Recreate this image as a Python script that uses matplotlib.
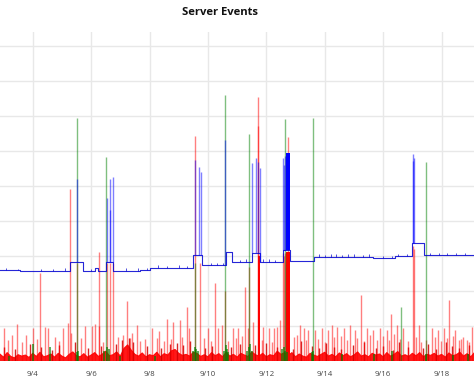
import numpy as np
import matplotlib
matplotlib.use("Agg")
import matplotlib.pyplot as plt
import matplotlib.dates as mdates
from datetime import datetime

plt.rcParams['font.family'] = ['Open Sans', 'DejaVu Sans']

# ---------------- data (time in days since 9/4 00:00) ----------------
title = "Server Events"
start_date = datetime(2024, 9, 4)
tick_days = [0, 2, 4, 6, 8, 10, 12, 14]
tick_labels = ["9/4", "9/6", "9/8", "9/10", "9/12", "9/14", "9/16", "9/18"]

# blue: stepped baseline
blue_step_t = [-1.2, -0.43, 1.28, 1.72, 2.13, 2.24, 2.51, 2.75, 3.68, 4.02, 5.49, 5.79,
               6.62, 6.83, 7.50, 7.78, 8.57, 8.81, 9.63, 11.65, 12.40, 12.99, 13.40, 15.2]
blue_step_v = [26.0, 25.6, 28.4, 25.7, 26.6, 25.7, 28.3, 25.7, 26.0, 26.6, 30.3, 27.4,
               31.2, 28.3, 30.9, 28.4, 31.7, 28.7, 29.8, 29.3, 30.0, 33.6, 30.3, 30.3]
# blue spikes (tall) and small blips
blue_spike_t = [1.53, 2.53, 2.64, 2.66, 2.74, 5.57, 5.71, 5.75, 6.60, 7.50, 7.64, 7.73, 7.78,
                8.58, 8.62, 8.65, 13.01, 13.03, 13.05]
blue_spike_v = [51.9, 46.6, 52.0, 43.0, 52.7, 57.4, 55.3, 54.1, 63.1, 56.5, 57.9, 56.9, 55.1,
                57.9, 56.0, 58.5, 57.0, 59.1, 58.0]
# dense blue burst (start, end, top)
blue_block_t0 = [8.68]
blue_block_t1 = [8.80]
blue_block_v = [59.3]
blue_blip_t = [-0.9, -0.5, 0.3, 0.7, 1.1, 2.0, 3.2, 3.6, 3.9, 4.3, 4.6, 5.0, 5.3, 6.1, 6.3, 6.5,
               7.1, 7.3, 7.9, 8.1, 8.3, 9.8, 10.0, 10.2, 10.4, 10.6, 10.8, 11.0, 11.3, 11.5,
               12.0, 12.3, 12.5, 12.8, 13.6, 13.9, 14.2, 14.5, 14.8]
blue_blip_v = [26.6, 26.2, 26.4, 26.3, 26.5, 26.4, 26.6, 26.5, 26.7, 27.3, 27.2, 27.3, 27.2,
               28.0, 28.1, 28.0, 29.0, 29.1, 29.1, 29.2, 29.0, 30.5, 30.4, 30.6, 30.5, 30.4,
               30.6, 30.5, 30.4, 30.6, 30.1, 30.0, 30.7, 30.6, 31.0, 30.9, 30.8, 31.0, 30.9]

# red: noise floor sampled every 3 hours from day -1.25
red_floor_start = -1.25
red_floor_v = [
    1.4, 2.0, 1.1, 2.4, 1.3, 0.9, 1.8, 1.4,
    1.7, 1.0, 2.2, 1.3, 2.5, 1.2, 1.5, 2.0,
    1.1, 2.2, 1.4, 0.9, 1.9, 2.6, 1.5, 1.2,
    2.1, 1.1, 1.7, 2.4, 1.3, 1.9, 2.8, 1.5,
    1.8, 2.6, 1.4, 3.6, 4.6, 3.1, 1.9, 1.4,
    2.3, 1.2, 1.8, 1.5, 2.5, 1.2, 2.1, 1.7,
    2.9, 3.3, 2.2, 1.6, 1.9, 1.4, 2.5, 2.2,
    1.3, 1.8, 1.2, 2.4, 1.5, 2.1, 1.2, 2.5,
    1.4, 1.9, 1.1, 2.2, 1.7, 1.3, 2.6, 1.8,
    1.4, 2.2, 1.2, 1.8, 1.5, 2.8, 1.9, 2.4,
    1.6, 2.4, 1.2, 2.0, 1.4, 1.1, 2.2, 1.7,
    1.3, 1.9, 2.5, 1.4, 1.9, 1.2, 2.3, 1.5,
    2.1, 1.2, 1.7, 2.6, 1.4, 1.8, 1.2, 2.2,
    1.7, 2.0, 1.2, 2.4, 1.4, 1.9, 2.7, 1.4,
    1.8, 1.3, 2.2, 1.5, 2.4, 1.2, 1.9, 1.6,
    2.2, 1.4, 1.9, 1.1, 2.3, 1.5, 1.8, 2.5,
    1.4, 2.1, 1.2, 2.4, 1.7]
# red spikes
red_spike_t = [
    -0.98, -0.72, -0.53, -0.24, 0.02, 0.25, 0.42, 0.53, 0.76, 1.03, 1.20, 1.28, 1.31, 1.53,
    1.79, 2.02, 2.13, 2.26, 2.28, 2.53, 2.65, 2.74, 2.93, 3.22, 3.33, 3.58, 3.67, 3.85,
    4.08, 4.25, 4.34, 4.59, 4.73, 4.82, 5.04, 5.27, 5.35, 5.57, 5.73, 6.01, 6.24, 6.36,
    6.47, 6.60, 6.70, 6.87, 7.04, 7.27, 7.38, 7.42, 7.55, 7.70, 7.73, 7.90, 8.10, 8.26,
    8.38, 8.47, 8.58, 8.62, 8.65, 8.73, 9.15, 9.29, 9.44, 9.67, 9.90, 10.12, 10.24, 10.41,
    10.66, 10.87, 11.04, 11.24, 11.44, 11.66, 11.89, 12.12, 12.28, 12.47, 12.69, 13.02,
    13.04, 13.21, 13.66, 13.89, 14.08, 14.27, 14.46, 14.75, 14.86, 15.04]
red_spike_v = [
    9.3, 7.4, 10.6, 7.4, 9.4, 25.1, 9.8, 9.4, 7.0, 9.4, 10.9, 49.0, 8.0, 28.0,
    10.0, 10.0, 10.7, 31.2, 10.0, 28.0, 28.0, 28.0, 7.0, 17.2, 6.6, 10.3, 5.7, 6.3,
    9.3, 6.5, 8.7, 12.0, 6.2, 11.2, 11.6, 15.5, 9.3, 64.3, 28.0, 9.3, 22.2, 9.3,
    10.3, 20.0, 5.8, 9.3, 9.3, 21.2, 9.3, 27.0, 11.2, 67.0, 75.3, 9.8, 9.3, 9.3,
    9.8, 11.6, 31.0, 30.0, 31.0, 63.9, 10.3, 9.3, 8.9, 8.9, 9.3, 8.9, 10.3, 9.8,
    9.3, 10.3, 8.9, 18.9, 9.3, 8.9, 9.3, 8.9, 13.4, 10.3, 9.3, 33.0,
    32.0, 10.3, 9.3, 8.9, 9.3, 17.3, 8.9, 7.0, 6.0, 9.8]
# medium-low red spikes
red_mid_t = [-0.85, -0.35, 0.15, 0.9, 1.65, 2.4, 3.1, 3.4, 4.5, 5.1, 5.85, 6.12, 6.95, 7.18,
             7.85, 8.2, 8.95, 9.05, 9.36, 9.78, 10.0, 10.33, 10.55, 10.75, 11.12, 11.35,
             11.55, 11.78, 12.0, 12.2, 12.38, 12.58, 12.85, 13.12, 13.3, 13.45, 13.78,
             13.98, 14.18, 14.38, 14.58, 14.68, 14.95]
red_mid_v = [6.0, 5.5, 6.2, 5.8, 6.5, 5.5, 7.5, 8.0, 5.8, 7.0, 6.5, 5.8, 6.6, 7.2,
             6.1, 5.5, 6.8, 7.4, 5.9, 6.2, 5.5, 6.8, 7.2, 6.0, 6.7, 5.6,
             7.5, 5.9, 7.1, 6.0, 7.8, 6.3, 5.7, 6.9, 5.5, 6.1, 7.0,
             5.6, 6.5, 7.2, 5.9, 6.3, 5.4]
# dense red bursts (start, end, top)
red_block_t0 = [7.70, 8.68]
red_block_t1 = [7.79, 8.81]
red_block_v = [30.0, 31.2]
# small dark red spikes above the floor
red_small_t = [-1.0, -0.6, -0.1, 0.3, 0.65, 0.9, 1.45, 1.9, 2.35, 2.85, 3.05, 3.3, 3.45, 3.9,
               4.4, 4.7, 4.95, 5.15, 5.4, 5.9, 6.15, 6.8, 7.1, 7.6, 8.0, 8.35, 8.9, 9.2, 9.55,
               9.8, 10.05, 10.3, 10.55, 10.95, 11.35, 11.75, 12.0, 12.35, 12.55, 12.85, 13.35,
               13.55, 13.8, 14.15, 14.35, 14.6, 14.95]
red_small_v = [4.0, 3.5, 5.0, 4.0, 3.2, 4.5, 5.5, 3.6, 4.2, 5.0, 6.0, 6.5, 5.5, 4.3,
               3.6, 4.8, 5.2, 4.5, 5.8, 3.8, 4.2, 4.0, 5.0, 4.6, 5.2, 4.0, 3.5, 5.8, 4.2,
               3.6, 5.1, 4.0, 3.4, 4.6, 5.5, 3.8, 4.4, 3.2, 5.3, 4.1, 3.6,
               4.8, 3.5, 5.3, 4.2, 3.7, 4.5]

# green spikes
green_spike_t = [1.53, 2.51, 5.57, 6.60, 7.42, 8.63, 9.59, 12.61, 13.48]
green_spike_v = [69.5, 58.2, 28.0, 76.0, 64.8, 69.1, 69.4, 15.5, 56.8]
green_small_t = [-0.8, 0.0, 0.6, 1.5, 1.55, 2.45, 2.55, 2.6, 3.0, 4.2, 5.5, 5.55, 5.6, 5.65,
                 6.55, 6.62, 6.65, 6.7, 7.35, 7.4, 7.45, 7.5, 8.55, 8.6, 8.65, 8.7, 9.55,
                 9.6, 10.6, 11.7, 12.3, 13.45, 14.4, 14.9]
green_small_v = [1.5, 5.0, 4.0, 2.5, 3.0, 3.0, 4.0, 3.5, 1.5, 1.5, 3.0, 4.0, 3.5, 2.8,
                 3.0, 4.5, 3.5, 2.5, 3.0, 4.0, 5.0, 3.0, 3.5, 4.0, 3.0, 2.5, 2.5,
                 3.0, 2.0, 2.0, 3.0, 2.0, 1.8, 2.0]

# ---------------- figure ----------------
W, H = 474, 389
fig = plt.figure(figsize=(W / 100, H / 100), dpi=100)
ax = fig.add_axes([0, 28 / H, 1, 329 / H])
t0 = mdates.date2num(start_date)

def X(days):
    return t0 + np.asarray(days, dtype=float)

def base_of(ts):
    i = np.searchsorted(blue_step_t, ts, side='right') - 1
    return np.asarray(blue_step_v)[i]

# red floor
floor_t = red_floor_start + 0.125 * np.arange(len(red_floor_v))
ax.fill_between(X(floor_t), 0, red_floor_v, color='red', alpha=0.9, lw=0, zorder=2)
ax.plot(X(floor_t), red_floor_v, color='red', lw=0.8, alpha=0.9, zorder=2)
ax.vlines(X(red_small_t), 0, red_small_v, color='#d00000', lw=1.0, alpha=0.85, zorder=2)
ax.vlines(X(red_mid_t), 0, red_mid_v, color='red', lw=1.0, alpha=0.5, zorder=2)
ax.vlines(X(red_spike_t), 0, red_spike_v, color='red', lw=1.0, alpha=0.5, zorder=2)
ax.bar(X(red_block_t0), red_block_v, width=np.subtract(red_block_t1, red_block_t0),
       align='edge', color='red', lw=0, zorder=2)

# green
ax.vlines(X(green_small_t), 0, green_small_v, color='green', lw=1.2, alpha=0.75, zorder=3)
ax.vlines(X(green_spike_t), 0, green_spike_v, color='green', lw=1.0, alpha=0.5, zorder=3)

# blue
ax.plot(X(blue_step_t), blue_step_v, drawstyle='steps-post', color='#0000d0', lw=0.8,
        alpha=0.85, zorder=4)
ax.vlines(X(blue_spike_t), base_of(blue_spike_t), blue_spike_v, color='blue', lw=1.0,
          alpha=0.5, zorder=4)
bb = base_of(blue_block_t0)
ax.bar(X(blue_block_t0), np.subtract(blue_block_v, bb), bottom=bb,
       width=np.subtract(blue_block_t1, blue_block_t0), align='edge', color='blue', lw=0,
       zorder=4)
ax.vlines(X(blue_blip_t), base_of(blue_blip_t), blue_blip_v, color='#0000d0', lw=0.6,
          alpha=0.8, zorder=4)

ax.set_xlim(t0 - 1.12, t0 + 15.11)
ax.set_ylim(0, 94)
ax.set_xticks(X(tick_days))
ax.set_xticklabels(tick_labels)
ax.set_yticks(np.arange(0, 100, 10))
ax.tick_params(axis='x', length=0, pad=7, labelsize=5.6, colors='#444444')
ax.tick_params(axis='y', length=0, labelleft=False)
ax.grid(True, color='#e8e8e8', lw=1.0, zorder=0)
ax.set_axisbelow(True)
for s in ax.spines.values():
    s.set_visible(False)

fig.text(220 / W, 1 - 12.8 / H, title, ha='center', va='center', fontsize=8.1,
         fontweight='bold', color='#111111')

fig.savefig('out.png', dpi=100)
